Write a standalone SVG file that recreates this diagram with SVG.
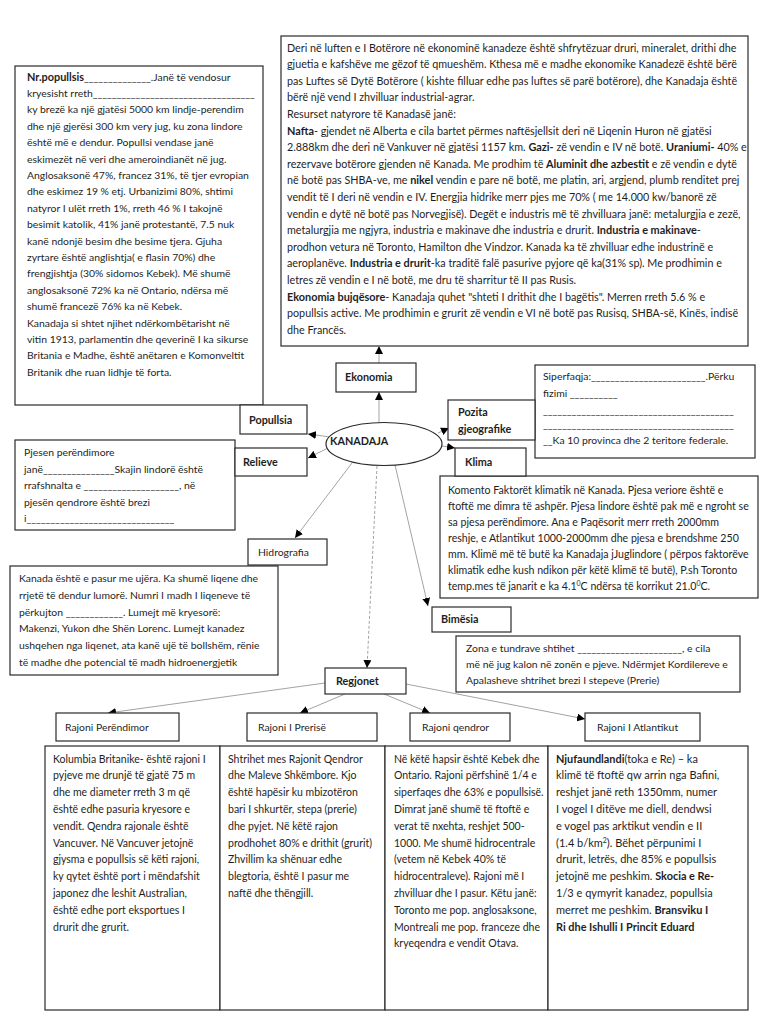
<svg xmlns="http://www.w3.org/2000/svg" width="768" height="1024" viewBox="0 0 768 1024">
<style>
.t{font-family:Lato,"Liberation Sans",sans-serif;font-size:10.4px;fill:#1e1e1e}
.tl{font-size:10.4px}
.s{font-size:10.75px}
.k{font-size:10.6px}
.c{font-size:10.5px}
.c4{font-size:11px}
.bb{font-weight:bold;font-size:10.9px}
.lb{font-family:Lato,"Liberation Sans",sans-serif;font-size:10.8px;font-weight:bold;fill:#1e1e1e}
.ln{font-family:Lato,"Liberation Sans",sans-serif;font-size:10.4px;fill:#1e1e1e}
.box{fill:#fff;stroke:#2a2a2a;stroke-width:1.2}
.con{stroke:#a3a3a3;stroke-width:1;fill:none;marker-end:url(#ah)}
.dash{stroke-dasharray:3 2}
</style>
<defs>
<marker id="ah" viewBox="0 0 10 10" refX="10" refY="5" markerWidth="8" markerHeight="8" markerUnits="userSpaceOnUse" orient="auto"><path d="M0,0 L10,5 L0,10 z" fill="#000"/></marker>
</defs>
<rect width="768" height="1024" fill="#fff"/>

<g id="popullsia-info">
<rect class="box" x="15" y="66" width="248" height="339"/>
<text class="t tl">
<tspan x="27" y="80.5"><tspan class="bb">Nr.popullsis</tspan>______________.Janë të vendosur</tspan>
<tspan x="27" y="96.9">kryesisht rreth__________________________________</tspan>
<tspan x="27" y="113.3">ky brezë ka një gjatësi 5000 km lindje-perendim</tspan>
<tspan x="27" y="129.7">dhe një gjerësi 300 km very jug, ku zona lindore</tspan>
<tspan x="27" y="146.1">është më e dendur. Popullsi vendase janë</tspan>
<tspan x="27" y="162.5">eskimezët në veri dhe ameroindianët në jug.</tspan>
<tspan x="27" y="178.9">Anglosaksonë 47%, francez 31%, të tjer evropian</tspan>
<tspan x="27" y="195.3">dhe eskimez 19 % etj. Urbanizimi 80%, shtimi</tspan>
<tspan x="27" y="211.7">natyror I ulët rreth 1%, rreth 46 % I takojnë</tspan>
<tspan x="27" y="228.1">besimit katolik, 41% janë protestantë, 7.5 nuk</tspan>
<tspan x="27" y="244.5">kanë ndonjë besim dhe besime tjera. Gjuha</tspan>
<tspan x="27" y="260.9">zyrtare është anglishtja( e flasin 70%) dhe</tspan>
<tspan x="27" y="277.3">frengjishtja (30% sidomos Kebek). Më shumë</tspan>
<tspan x="27" y="293.7">anglosaksonë 72% ka në Ontario, ndërsa më</tspan>
<tspan x="27" y="310.1">shumë francezë 76% ka në Kebek.</tspan>
<tspan x="27" y="326.5">Kanadaja si shtet njihet ndërkombëtarisht në</tspan>
<tspan x="27" y="342.9">vitin 1913, parlamentin dhe qeverinë I ka sikurse</tspan>
<tspan x="27" y="359.3">Britania e Madhe, është anëtaren e Komonveltit</tspan>
<tspan x="27" y="375.7">Britanik dhe ruan lidhje të forta.</tspan>
</text>
</g>

<g id="ekonomia-info">
<rect class="box" x="281" y="36" width="467" height="310"/>
<text class="t s">
<tspan x="287" y="51.5">Deri në luften e I Botërore në ekonominë kanadeze është shfrytëzuar druri, mineralet, drithi dhe</tspan>
<tspan x="287" y="68.1">gjuetia e kafshëve me gëzof të qmueshëm. Kthesa më e madhe ekonomike Kanadezë është bërë</tspan>
<tspan x="287" y="84.7">pas Luftes së Dytë Botërore ( kishte filluar edhe pas luftes së parë botërore), dhe Kanadaja është</tspan>
<tspan x="287" y="101.3">bërë një vend I zhvilluar industrial-agrar.</tspan>
<tspan x="287" y="117.9">Resurset natyrore të Kanadasë janë:</tspan>
<tspan x="287" y="134.5"><tspan class="bb">Nafta</tspan>- gjendet në Alberta e cila bartet përmes naftësjellsit deri në Liqenin Huron në gjatësi</tspan>
<tspan x="287" y="151.1">2.888km dhe deri në Vankuver në gjatësi 1157 km. <tspan class="bb">Gazi-</tspan> zë vendin e IV në botë. <tspan class="bb">Uraniumi-</tspan> 40% e</tspan>
</text>
<text class="t s" x="287" y="167.7" textLength="450" lengthAdjust="spacingAndGlyphs">rezervave botërore gjenden në Kanada. Me prodhim të <tspan class="bb">Aluminit dhe azbestit</tspan> e zë vendin e dytë</text>
<text class="t s">
<tspan x="287" y="184.3">në botë pas SHBA-ve, me <tspan class="bb">nikel</tspan> vendin e pare në botë, me platin, ari, argjend, plumb renditet prej</tspan>
<tspan x="287" y="200.9">vendit të I deri në vendin e IV. Energjia hidrike merr pjes me 70% ( me 14.000 kw/banorë zë</tspan>
<tspan x="287" y="217.5">vendin e dytë në botë pas Norvegjisë). Degët e industris më të zhvilluara janë: metalurgjia e zezë,</tspan>
<tspan x="287" y="234.1">metalurgjia me ngjyra, industria e makinave dhe industria e drurit. <tspan class="bb">Industria e makinave</tspan>-</tspan>
<tspan x="287" y="250.7">prodhon vetura në Toronto, Hamilton dhe Vindzor. Kanada ka të zhvilluar edhe industrinë e</tspan>
<tspan x="287" y="267.3">aeroplanëve. <tspan class="bb">Industria e drurit</tspan>-ka traditë falë pasurive pyjore që ka(31% sp). Me prodhimin e</tspan>
<tspan x="287" y="283.9">letres zë vendin e I në botë, me dru të sharritur të II pas Rusis.</tspan>
<tspan x="287" y="300.5"><tspan class="bb">Ekonomia bujqësore</tspan>- Kanadaja quhet "shteti I drithit dhe I bagëtis". Merren rreth 5.6 % e</tspan>
<tspan x="287" y="317.1">popullsis active. Me prodhimin e grurit zë vendin e VI në botë pas Rusisq, SHBA-së, Kinës, indisë</tspan>
<tspan x="287" y="333.7">dhe Francës.</tspan>
</text>
</g>

<g id="pozita-info">
<rect class="box" x="535" y="365" width="220" height="93"/>
<text class="t">
<tspan x="543" y="379.5">Siperfaqja:________________________.Përku</tspan>
<tspan x="543" y="396.5">fizimi __________</tspan>
<tspan x="543" y="413.5">________________________________________</tspan>
<tspan x="543" y="428">________________________________________</tspan>
<tspan x="543" y="443.5">__Ka 10 provinca dhe 2 teritore federale.</tspan>
</text>
</g>

<g id="relieve-info">
<rect class="box" x="15" y="440" width="220" height="90"/>
<text class="t">
<tspan x="24" y="456">Pjesen perëndimore</tspan>
<tspan x="24" y="472.5">janë_______________Skajin lindorë është</tspan>
<tspan x="24" y="489">rrafshnalta e ____________________, në</tspan>
<tspan x="24" y="505.5">pjesën qendrore është brezi</tspan>
<tspan x="24" y="522">i_______________________________</tspan>
</text>
</g>

<g id="klima-info">
<rect class="box" x="440" y="476" width="318" height="122"/>
<text class="t k">
<tspan x="448" y="494">Komento Faktorët klimatik në Kanada. Pjesa veriore është e</tspan>
<tspan x="448" y="510">ftoftë me dimra të ashpër. Pjesa lindore është pak më e ngroht se</tspan>
<tspan x="448" y="526">sa pjesa perëndimore. Ana e Paqësorit merr rreth 2000mm</tspan>
<tspan x="448" y="542">reshje, e Atlantikut 1000-2000mm dhe pjesa e brendshme 250</tspan>
<tspan x="448" y="558">mm. Klimë më të butë ka Kanadaja jJuglindore ( përpos faktorëve</tspan>
<tspan x="448" y="574">klimatik edhe kush ndikon për këtë klimë të butë), P.sh Toronto</tspan>
<tspan x="448" y="590">temp.mes të janarit e ka 4.1<tspan font-size="7px" dy="-4">0</tspan><tspan dy="4">C ndërsa të korrikut 21.0</tspan><tspan font-size="7px" dy="-4">0</tspan><tspan dy="4">C.</tspan></tspan>
</text>
</g>

<g id="hidrografia-info">
<rect class="box" x="10" y="566" width="268" height="109"/>
<text class="t">
<tspan x="19" y="582">Kanada është e pasur me ujëra. Ka shumë liqene dhe</tspan>
<tspan x="19" y="598.8">rrjetë të dendur lumorë. Numri I madh I liqeneve të</tspan>
<tspan x="19" y="615.6">përkujton ____________. Lumejt më kryesorë:</tspan>
<tspan x="19" y="632.4">Makenzi, Yukon dhe Shën Lorenc. Lumejt kanadez</tspan>
<tspan x="19" y="649.2">ushqehen nga liqenet, ata kanë ujë të bollshëm, rënie</tspan>
<tspan x="19" y="666">të madhe dhe potencial të madh hidroenergjetik</tspan>
</text>
</g>

<g id="bimesia-info">
<rect class="box" x="456" y="636" width="284" height="56"/>
<text class="t">
<tspan x="466" y="652">Zona e tundrave shtihet ______________________, e cila</tspan>
<tspan x="466" y="668">më në jug kalon në zonën e pjeve. Ndërmjet Kordilereve e</tspan>
<tspan x="466" y="684">Apalasheve shtrihet brezi I stepeve (Prerie)</tspan>
</text>
</g>

<g id="connectors">
<line class="con" x1="379" y1="363" x2="379" y2="346"/>
<line class="con" x1="379" y1="423" x2="379" y2="392"/>
<line class="con" x1="330" y1="437" x2="308" y2="434"/>
<line class="con" x1="328" y1="448" x2="308" y2="458"/>
<line class="con" x1="438" y1="433" x2="449" y2="428"/>
<line class="con" x1="442" y1="446" x2="455" y2="448"/>
<line class="con" x1="352" y1="463" x2="295" y2="538"/>
<line class="con dash" x1="377" y1="466" x2="367" y2="668"/>
<line class="con" x1="395" y1="465" x2="428" y2="606"/>
<line class="con" x1="325" y1="683" x2="108" y2="713"/>
<line class="con" x1="345" y1="694" x2="300" y2="713"/>
<line class="con" x1="384" y1="694" x2="430" y2="713"/>
<line class="con" x1="406" y1="684" x2="585" y2="719"/>
</g>

<g id="ekonomia"><rect class="box" x="336" y="363" width="80" height="29"/><text class="lb" x="345" y="381">Ekonomia</text></g>
<g id="popullsia"><rect class="box" x="240" y="405" width="67" height="29"/><text class="lb" x="249" y="424">Popullsia</text></g>
<g id="relieve"><rect class="box" x="235" y="448" width="72" height="28"/><text class="lb" x="243" y="466">Relieve</text></g>
<g id="kanadaja"><ellipse cx="384" cy="444" rx="58" ry="21.5" fill="#fff" stroke="#2a2a2a" stroke-width="1.2"/><text class="lb" x="330" y="444.5" font-size="14px">KANADAJA</text></g>
<g id="pozita"><rect class="box" x="448" y="400" width="87" height="40"/><text class="lb"><tspan x="458" y="416">Pozita</tspan><tspan x="458" y="433">gjeografike</tspan></text></g>
<g id="klima"><rect class="box" x="455" y="448" width="71" height="28"/><text class="lb" x="465" y="466">Klima</text></g>
<g id="hidrografia"><rect class="box" x="248" y="539" width="79" height="26"/><text class="ln" x="258" y="556">Hidrografia</text></g>
<g id="bimesia"><rect class="box" x="432" y="607" width="79" height="25"/><text class="lb" x="441" y="623">Bimësia</text></g>
<g id="regjonet"><rect class="box" x="325" y="668" width="81" height="26"/><text class="lb" x="336" y="685">Regjonet</text></g>

<g id="rajoni-perendimor"><rect class="box" x="56" y="713" width="123" height="28"/><text class="ln" x="65" y="730.5">Rajoni Perëndimor</text></g>
<g id="rajoni-prerise"><rect class="box" x="247" y="713" width="130" height="28"/><text class="ln" x="258" y="730.5">Rajoni I Prerisë</text></g>
<g id="rajoni-qendror"><rect class="box" x="410" y="713" width="100" height="28"/><text class="ln" x="422" y="730.5">Rajoni qendror</text></g>
<g id="rajoni-atlantikut"><rect class="box" x="585" y="713" width="115" height="28"/><text class="ln" x="597" y="730.5">Rajoni I Atlantikut</text></g>

<g id="col-perendimor">
<rect class="box" x="45" y="746" width="175" height="264"/>
<text class="t c">
<tspan x="53" y="762.5">Kolumbia Britanike- është rajoni I</tspan>
<tspan x="53" y="779.3">pyjeve me drunjë të gjatë 75 m</tspan>
<tspan x="53" y="796.1">dhe me diameter rreth 3 m që</tspan>
<tspan x="53" y="812.9">është edhe pasuria kryesore e</tspan>
<tspan x="53" y="829.7">vendit. Qendra rajonale është</tspan>
<tspan x="53" y="846.5">Vancuver. Në Vancuver jetojnë</tspan>
<tspan x="53" y="863.3">gjysma e popullsis së këti rajoni,</tspan>
<tspan x="53" y="880.1">ky qytet është port i mëndafshit</tspan>
<tspan x="53" y="896.9">japonez dhe leshit Australian,</tspan>
<tspan x="53" y="913.7">është edhe port eksportues I</tspan>
<tspan x="53" y="930.5">drurit dhe grurit.</tspan>
</text>
</g>
<g id="col-prerise">
<rect class="box" x="220" y="746" width="165" height="264"/>
<text class="t c">
<tspan x="228" y="762.5">Shtrihet mes Rajonit Qendror</tspan>
<tspan x="228" y="779.3">dhe Maleve Shkëmbore. Kjo</tspan>
<tspan x="228" y="796.1">është hapësir ku mbizotëron</tspan>
<tspan x="228" y="812.9">bari I shkurtër, stepa (prerie)</tspan>
<tspan x="228" y="829.7">dhe pyjet. Në këtë rajon</tspan>
<tspan x="228" y="846.5">prodhohet 80% e drithit (grurit)</tspan>
<tspan x="228" y="863.3">Zhvillim ka shënuar edhe</tspan>
<tspan x="228" y="880.1">blegtoria, është I pasur me</tspan>
<tspan x="228" y="896.9">naftë dhe thëngjill.</tspan>
</text>
</g>
<g id="col-qendror">
<rect class="box" x="385" y="746" width="163" height="264"/>
<text class="t c">
<tspan x="394" y="762.5">Në këtë hapsir është Kebek dhe</tspan>
<tspan x="394" y="779.3">Ontario. Rajoni përfshinë 1/4 e</tspan>
<tspan x="394" y="796.1">siperfaqes dhe 63% e popullsisë.</tspan>
<tspan x="394" y="812.9">Dimrat janë shumë të ftoftë e</tspan>
<tspan x="394" y="829.7">verat të nxehta, reshjet 500-</tspan>
<tspan x="394" y="846.5">1000. Me shumë hidrocentrale</tspan>
<tspan x="394" y="863.3">(vetem në Kebek 40% të</tspan>
<tspan x="394" y="880.1">hidrocentraleve). Rajoni më I</tspan>
<tspan x="394" y="896.9">zhvilluar dhe I pasur. Këtu janë:</tspan>
<tspan x="394" y="913.7">Toronto me pop. anglosaksone,</tspan>
<tspan x="394" y="930.5">Montreali me pop. franceze dhe</tspan>
<tspan x="394" y="947.3">kryeqendra e vendit Otava.</tspan>
</text>
</g>
<g id="col-atlantikut">
<rect class="box" x="548" y="746" width="200" height="264"/>
<text class="t c4">
<tspan x="556" y="762.5"><tspan class="bb" font-size="11.5px">Njufaundlandi</tspan>(toka e Re) – ka</tspan>
<tspan x="556" y="779.3">klimë të ftoftë qw arrin nga Bafini,</tspan>
<tspan x="556" y="796.1">reshjet janë reth 1350mm, numer</tspan>
<tspan x="556" y="812.9">I vogel I ditëve me diell, dendwsi</tspan>
<tspan x="556" y="829.7">e vogel pas arktikut vendin e II</tspan>
<tspan x="556" y="846.5">(1.4 b/km<tspan font-size="7px" dy="-4">2</tspan><tspan dy="4">). Bëhet përpunimi I</tspan></tspan>
<tspan x="556" y="863.3">drurit, letrës, dhe 85% e popullsis</tspan>
<tspan x="556" y="880.1">jetojnë me peshkim. <tspan class="bb" font-size="11.5px">Skocia e Re-</tspan></tspan>
<tspan x="556" y="896.9">1/3 e qymyrit kanadez, popullsia</tspan>
<tspan x="556" y="913.7">merret me peshkim. <tspan class="bb" font-size="11.5px">Bransviku I</tspan></tspan>
<tspan x="556" y="930.5" class="bb" font-size="11.5px">Ri  dhe Ishulli I Princit Eduard</tspan>
</text>
</g>
</svg>
